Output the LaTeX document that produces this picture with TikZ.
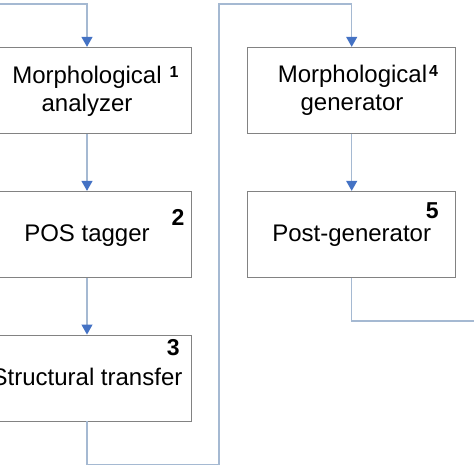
\documentclass[tikz,border=0pt]{standalone}
\usepackage{fontspec}
\setmainfont{Liberation Sans}
\usetikzlibrary{arrows.meta}
\definecolor{linec}{RGB}{165,185,210}
\definecolor{arrowc}{RGB}{68,114,196}
\definecolor{boxc}{RGB}{130,130,130}
\tikzset{
  stagebox/.style={draw=boxc, line width=0.9pt, fill=white, minimum width=208pt, minimum height=86pt, inner sep=0pt},
  lbl/.style={inner sep=0pt, anchor=base, font=\fontsize{24}{28}\selectfont},
  numbig/.style={inner sep=0pt, anchor=base, font=\fontsize{23}{26}\selectfont\bfseries},
  numsmall/.style={inner sep=0pt, anchor=base, font=\fontsize{16}{18}\selectfont\bfseries},
  conn/.style={draw=linec, line width=1.1pt},
  arr/.style={conn, -{Triangle[width=11pt,length=10pt,color=arrowc,fill=arrowc]}}
}
\begin{document}
\begin{tikzpicture}[x=1pt,y=-1pt]
\useasboundingbox (0,0) rectangle (474,474);
% boxes
\node[stagebox] (b1) at (87,90.3) {};
\node[stagebox] (b2) at (87,234.3) {};
\node[stagebox] (b3) at (87,378) {};
\node[stagebox] (b4) at (351.7,90.3) {};
\node[stagebox] (b5) at (351.7,234.3) {};
% labels
\node[lbl] (t1a) at (87,83.3) {Morphological};
\node[lbl] (t1b) at (87,111) {analyzer};
\node[lbl] (t2) at (87,241.7) {POS tagger};
\node[lbl] (t3) at (87,385) {Structural transfer};
\node[lbl] (t4a) at (352.5,82.7) {Morphological};
\node[lbl] (t4b) at (352,110) {generator};
\node[lbl] (t5) at (351.7,241.7) {Post-generator};
% numbers
\node[numsmall] (n1) at (174,77) {1};
\node[numbig] (n2) at (178,225.7) {2};
\node[numbig] (n3) at (173.3,355.7) {3};
\node[numsmall] (n4) at (433.5,76) {4};
\node[numbig] (n5) at (432.2,218.3) {5};
% connectors
\coordinate (in) at (0,4);
\coordinate (c1) at (219,464.3);
\coordinate (c2) at (219,4);
\coordinate (out) at (474,321);
\draw[arr] (in) -| (b1.north);
\draw[arr] (b1.south) -- (b2.north);
\draw[arr] (b2.south) -- (b3.north);
\draw[arr] (b3.south) |- (c1) -- (c2) -| (b4.north);
\draw[arr] (b4.south) -- (b5.north);
\draw[conn] (b5.south) |- (out);
\end{tikzpicture}
\end{document}
